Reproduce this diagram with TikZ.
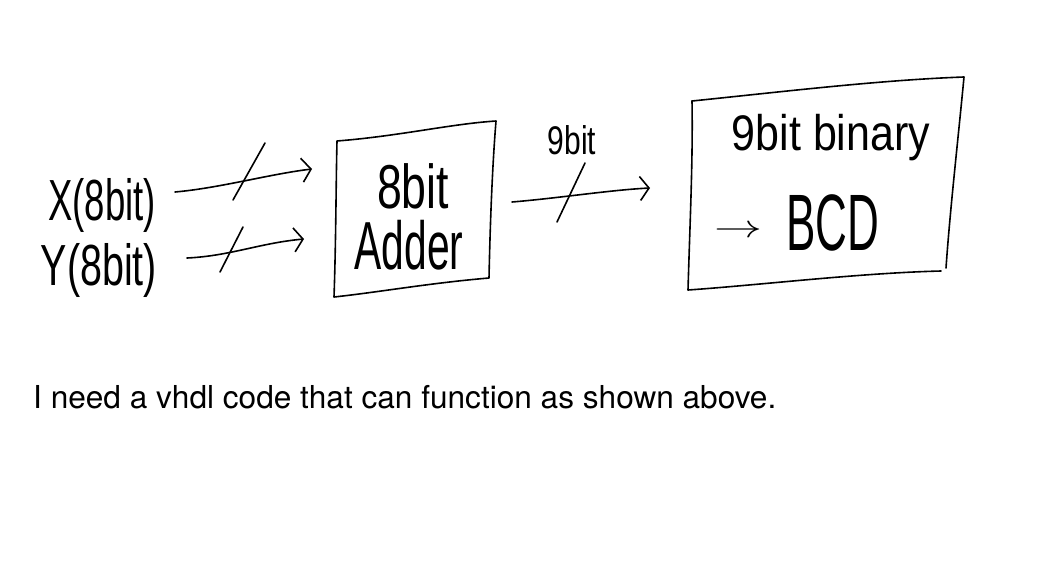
\documentclass[tikz,border=0pt]{standalone}
\usepackage{fontspec}
\usepackage{graphicx}
\setmainfont{Liberation Sans}
\newfontfamily\capfont{TeX Gyre Heros}
\usetikzlibrary{arrows.meta}
\newcommand\hw[3]{\scalebox{#1}[1]{\fontsize{#2}{#2}\selectfont #3}}
\tikzset{
  pen/.style={line width=1.6pt, line cap=round, line join=round, black},
  wire/.style={pen, -{Straight Barb[length=9pt,width=24pt,line width=1.6pt]}},
  slashmark/.style={pen},
  hand/.style={inner sep=0pt, outer sep=0pt, text=black},
}
\begin{document}
\begin{tikzpicture}[x=1pt,y=-1pt]
\useasboundingbox (0,0) rectangle (1048,560);
\fill[white] (0,0) rectangle (1048,560);

% input labels
\node[hand] (xin) at (102,205) {\hw{0.63}{58}{X(8bit)}};
\node[hand] (yin) at (99,270) {\hw{0.68}{58}{Y(8bit)}};

% adder box
\coordinate (a1) at (337,141);
\coordinate (a2) at (496,121);
\coordinate (a3) at (489,278);
\coordinate (a4) at (334,297);
\draw[pen] (a1) .. controls (400,136) and (450,124) .. (a2)
           .. controls (492,170) and (490,230) .. (a3)
           .. controls (430,283) and (380,292) .. (a4)
           .. controls (336,240) and (336,180) .. (a1);
\node[hand] (adt) at (413,186) {\hw{0.72}{62}{8bit}};
\node[hand] (ad) at (409,245) {\hw{0.6}{68}{Adder}};

% converter box
\coordinate (b1) at (692,101);
\coordinate (b2) at (964,77);
\coordinate (b3) at (946,268);
\coordinate (b4) at (688,290);
\draw[pen] (b1) .. controls (780,92) and (880,80) .. (b2)
           .. controls (958,140) and (950,210) .. (b3);
\draw[pen] (941,271) .. controls (860,273) and (760,285) .. (b4)
           .. controls (690,220) and (693,160) .. (b1);
\node[hand] (bt) at (831,138) {\hw{0.86}{50}{9bit binary}};
\node[hand, anchor=base west] (bb) at (714,250)
  {\raisebox{13pt}{\scalebox{4.8}[3.2]{$\rightarrow$}}\hspace{24pt}\hw{0.55}{80}{BCD}};

% arrows X, Y
\coordinate (xs) at (175,192);
\coordinate (xe) at (312,169);
\draw[wire] (xs) .. controls (220,188) and (270,174) .. (xe);
\coordinate (xsl1) at (233,200);
\coordinate (xsl2) at (265,143);
\draw[slashmark] (xsl1) -- (xsl2);

\coordinate (ys) at (187,258);
\coordinate (ye) at (304,239);
\draw[wire] (ys) .. controls (230,256) and (260,243) .. (ye);
\coordinate (ysl1) at (220,272);
\coordinate (ysl2) at (243,227);
\draw[slashmark] (ysl1) -- (ysl2);

% arrow adder -> converter
\coordinate (ms) at (512,202);
\coordinate (me) at (650,188);
\draw[wire] (ms) .. controls (560,198) and (610,190) .. (me);
\coordinate (msl1) at (557,222);
\coordinate (msl2) at (585,163);
\draw[slashmark] (msl1) -- (msl2);
\node[hand] (ml) at (572,140) {\hw{0.75}{40}{9bit}};

% caption
\node[anchor=base west, inner sep=0pt] (cap) at (33,408)
  {\capfont\fontsize{31.6}{31.6}\selectfont I need a vhdl code that can function as shown above.};
\end{tikzpicture}
\end{document}
